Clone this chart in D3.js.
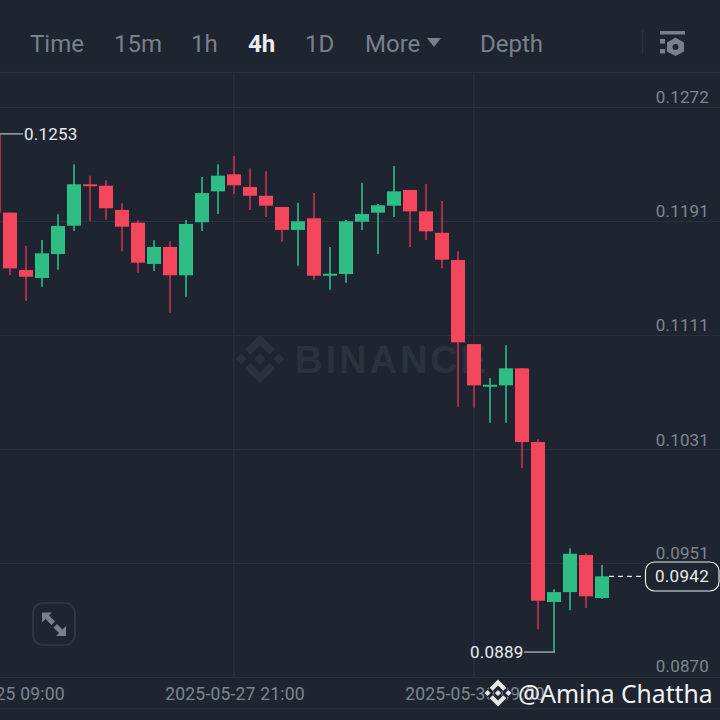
<!DOCTYPE html>
<html><head><meta charset="utf-8">
<style>html,body{margin:0;padding:0;background:#1e2530;overflow:hidden}svg{display:block}text{font-family:Roboto,sans-serif}</style>
<script src="https://cdn.jsdelivr.net/npm/d3@7"></script></head>
<body><div id="c"></div>
<script>
const opens =[0.11975,0.11570,0.11514,0.11683,0.11883,0.12175,0.12165,0.11994,0.11904,0.11613,0.11733,0.11533,0.11907,0.12125,0.12245,0.12156,0.12094,0.12015,0.11853,0.11935,0.11530,0.11542,0.11911,0.11975,0.12024,0.12135,0.11984,0.11833,0.11641,0.11048,0.10747,0.10757,0.10877,0.10357,0.09229,0.09299,0.09560,0.09257];
const closes=[0.11582,0.11523,0.11688,0.11881,0.12175,0.12161,0.12006,0.11876,0.11622,0.11733,0.11533,0.11895,0.12113,0.12236,0.12168,0.12094,0.12024,0.11853,0.11914,0.11530,0.11544,0.11914,0.11965,0.12027,0.12125,0.11984,0.11843,0.11643,0.11060,0.10757,0.10761,0.10877,0.10357,0.09238,0.09299,0.09569,0.09269,0.09410];
const highs =[0.11975,0.11742,0.11782,0.11963,0.12316,0.12236,0.12203,0.12041,0.11921,0.11780,0.11773,0.11923,0.12226,0.12316,0.12374,0.12288,0.12266,0.12015,0.12045,0.12113,0.11733,0.11923,0.12186,0.12036,0.12304,0.12135,0.12177,0.12057,0.11702,0.11048,0.10809,0.11039,0.10877,0.10376,0.09318,0.09608,0.09572,0.09490];
const lows  =[0.11535,0.11352,0.11453,0.11573,0.11845,0.11914,0.11925,0.11702,0.11551,0.11563,0.11269,0.11382,0.11845,0.11965,0.12106,0.11994,0.11944,0.11770,0.11601,0.11502,0.11431,0.11481,0.11853,0.11683,0.11944,0.11733,0.11782,0.11582,0.10606,0.10599,0.10493,0.10493,0.10174,0.09036,0.08876,0.09170,0.09186,0.09252];
const priceTicks=[0.1272,0.1191,0.1111,0.1031,0.0951,0.0870];
const gridPrices=[0.1272,0.11916,0.11112,0.10308,0.09504,0.0870];
const timeTickIndex=[-1,14,29];
const timeLabels=["2025-05-25 09:00","2025-05-27 21:00","2025-05-30 09:00"];
const tabs=["Time","15m","1h","4h","1D","More","Depth"];
const tabX=[30,114,191,248,305,365,480];
const edgeWick={index:-0.62,high:0.12527,low:0.11975};
const highLabel="0.1253",lowLabel="0.0889",lastLabel="0.0942";
const lastPrice=0.09410, lowPrice=0.08876;

const W=720,H=720,BG="#1e2530",GRID="#2a313c",TICK="#7e8591",UP="#2ebd85",DOWN="#f6465d",UPW="#2a9c77",DOWNW="#a9304b";
const svg=d3.select("#c").append("svg").attr("width",W).attr("height",H);
svg.append("rect").attr("width",W).attr("height",H).attr("fill",BG);
const x=d3.scaleLinear().domain([-1,29]).range([-6,474]);
const y=d3.scaleLinear().domain([0.0870,0.1272]).range([677,107]);

// frame lines
[72,708].forEach(v=>svg.append("line").attr("x1",0).attr("x2",W).attr("y1",v+.5).attr("y2",v+.5).attr("stroke",GRID).attr("stroke-width",1.5));
svg.append("g").selectAll("line").data(gridPrices).join("line")
 .attr("x1",0).attr("x2",W).attr("y1",d=>Math.round(y(d))+.5).attr("y2",d=>Math.round(y(d))+.5).attr("stroke",GRID).attr("stroke-width",1.2);
svg.append("g").selectAll("line").data(timeTickIndex.slice(1)).join("line")
 .attr("x1",d=>x(d)).attr("x2",d=>x(d)).attr("y1",72).attr("y2",677).attr("stroke",GRID).attr("stroke-width",1.5);

const LOGO=["M38.73 53.2l24.59-24.58 24.6 24.6 14.3-14.31L63.32 0 24.42 38.9z","M0 63.31l14.3-14.31 14.31 14.31-14.31 14.3z","M38.73 73.41l24.59 24.59 24.6-24.6 14.31 14.29-38.9 38.91-38.91-38.88z","M98 63.31l14.3-14.31 14.31 14.3-14.31 14.32z","M77.83 63.3L63.32 48.78 52.59 59.51l-1.24 1.23-2.54 2.54 14.51 14.5 14.51-14.47z"];
function logo(cx,cy,size,fill,stroke,sw){
 const s=size/126.61,g=svg.append("g").attr("transform",`translate(${cx-size/2},${cy-size/2}) scale(${s})`);
 LOGO.forEach(d=>g.append("path").attr("d",d).attr("fill",fill).attr("stroke",stroke||"none").attr("stroke-width",(sw||0)/s).attr("paint-order","stroke"));
}
// chart watermark
logo(260,359,49,"#2b323d");
svg.append("text").attr("x",295).attr("y",373).style("font-family","'Liberation Sans'").attr("font-weight",700).attr("font-size",38).attr("letter-spacing",3).attr("fill","#2b323d").text("BINANCE");

// candles
svg.append("line").attr("x1",x(edgeWick.index)).attr("x2",x(edgeWick.index)).attr("y1",y(edgeWick.high)).attr("y2",y(edgeWick.low)).attr("stroke",DOWNW).attr("stroke-width",2);
const idx=d3.range(opens.length);
const up=i=>closes[i]>opens[i];
const g=svg.append("g");
g.selectAll("line").data(idx).join("line").attr("x1",i=>x(i)).attr("x2",i=>x(i))
 .attr("y1",i=>y(highs[i])).attr("y2",i=>y(lows[i])).attr("stroke-width",2).attr("stroke",i=>up(i)?UPW:DOWNW);
g.selectAll("rect").data(idx).join("rect").attr("x",i=>x(i)-7).attr("width",14)
 .attr("y",i=>y(Math.max(opens[i],closes[i]))).attr("height",i=>Math.max(1.5,Math.abs(y(opens[i])-y(closes[i]))))
 .attr("fill",i=>up(i)?UP:DOWN);

// y labels
svg.append("g").selectAll("text").data(priceTicks).join("text").attr("x",709).attr("text-anchor","end")
 .attr("y",(d,i)=>y(gridPrices[i])-(i===5?5:(i===3?3.5:4.5))).attr("font-size",17).attr("letter-spacing",.15).attr("fill",TICK).text(d=>d.toFixed(4));
// x labels
svg.append("g").selectAll("text").data(timeTickIndex).join("text").attr("x",d=>x(d)+1).attr("y",699.5).attr("text-anchor","middle")
 .attr("font-size",17.5).attr("letter-spacing",.2).attr("fill",TICK).text((d,i)=>timeLabels[i]);

// tabs
svg.append("g").selectAll("text").data(tabs).join("text").attr("x",(d,i)=>tabX[i]).attr("y",52)
 .attr("font-size",24).attr("font-weight",d=>d==="4h"?700:400).attr("fill",d=>d==="4h"?"#eaecef":"#79808c").text(d=>d);
svg.append("path").attr("d","M427 38H441L434 47Z").attr("fill","#79808c");
svg.append("line").attr("x1",642.5).attr("x2",642.5).attr("y1",30).attr("y2",54).attr("stroke",GRID).attr("stroke-width",1.5);
svg.append("path").attr("d","M660 31H685V34.5H660ZM660 39H665V43.5H660ZM660 49H665V53.5H660Z").attr("fill","#79808c");
svg.append("path").attr("fill-rule","evenodd").attr("d","M675.5 37.5L684 42.5V51.5L675.5 56L667 51.5V42.5ZM675.5 44A3 3 0 1 0 675.5 50A3 3 0 1 0 675.5 44Z").attr("fill","#79808c");

// high / low / last markers
svg.append("line").attr("x1",0).attr("x2",23).attr("y1",y(edgeWick.high)-.5).attr("y2",y(edgeWick.high)-.5).attr("stroke","#9aa0a8").attr("stroke-width",1.5);
svg.append("text").attr("x",24).attr("y",y(edgeWick.high)+5.5).attr("font-size",17).attr("letter-spacing",.2).attr("fill","#eaecef").text(highLabel);
svg.append("line").attr("x1",524).attr("x2",x(34)+1).attr("y1",y(lowPrice)).attr("y2",y(lowPrice)).attr("stroke","#9aa0a8").attr("stroke-width",1.5);
svg.append("text").attr("x",470).attr("y",y(lowPrice)+6).attr("font-size",17).attr("letter-spacing",.2).attr("fill","#eaecef").text(lowLabel);
svg.append("line").attr("x1",x(37)+7).attr("x2",646).attr("y1",y(lastPrice)).attr("y2",y(lastPrice)).attr("stroke","#eaecef").attr("stroke-width",1.2).attr("stroke-dasharray","5 4");
svg.append("rect").attr("x",645.5).attr("y",562).attr("width",73.5).attr("height",29).attr("rx",9).attr("fill",BG).attr("stroke","#eaecef").attr("stroke-width",1.2);
svg.append("text").attr("x",682).attr("y",y(lastPrice)+6).attr("text-anchor","middle").attr("font-size",17).attr("letter-spacing",.3).attr("fill","#eaecef").text(lastLabel);

// expand button
svg.append("rect").attr("x",33).attr("y",603).attr("width",42).attr("height",42).attr("rx",10).attr("fill","none").attr("stroke","#2f3641").attr("stroke-width",2);
svg.append("path").attr("d","M42 612.5H52L49 615.5L55 621.5L51.5 625L45.5 619L42 622.5Z M66 636H56L59 633L53.5 627.5L57 624L62.5 629.5L66 626Z").attr("fill","#79808c");

// author watermark
logo(498,693,27,"#e6e6e6",BG,2);
svg.append("text").attr("x",518).attr("y",703).style("font-family","'Noto Sans'").attr("font-size",24.7).attr("fill","#f2f2f2").attr("stroke",BG).attr("stroke-width",.3).attr("paint-order","stroke").text("@Amina Chattha");
</script></body></html>
